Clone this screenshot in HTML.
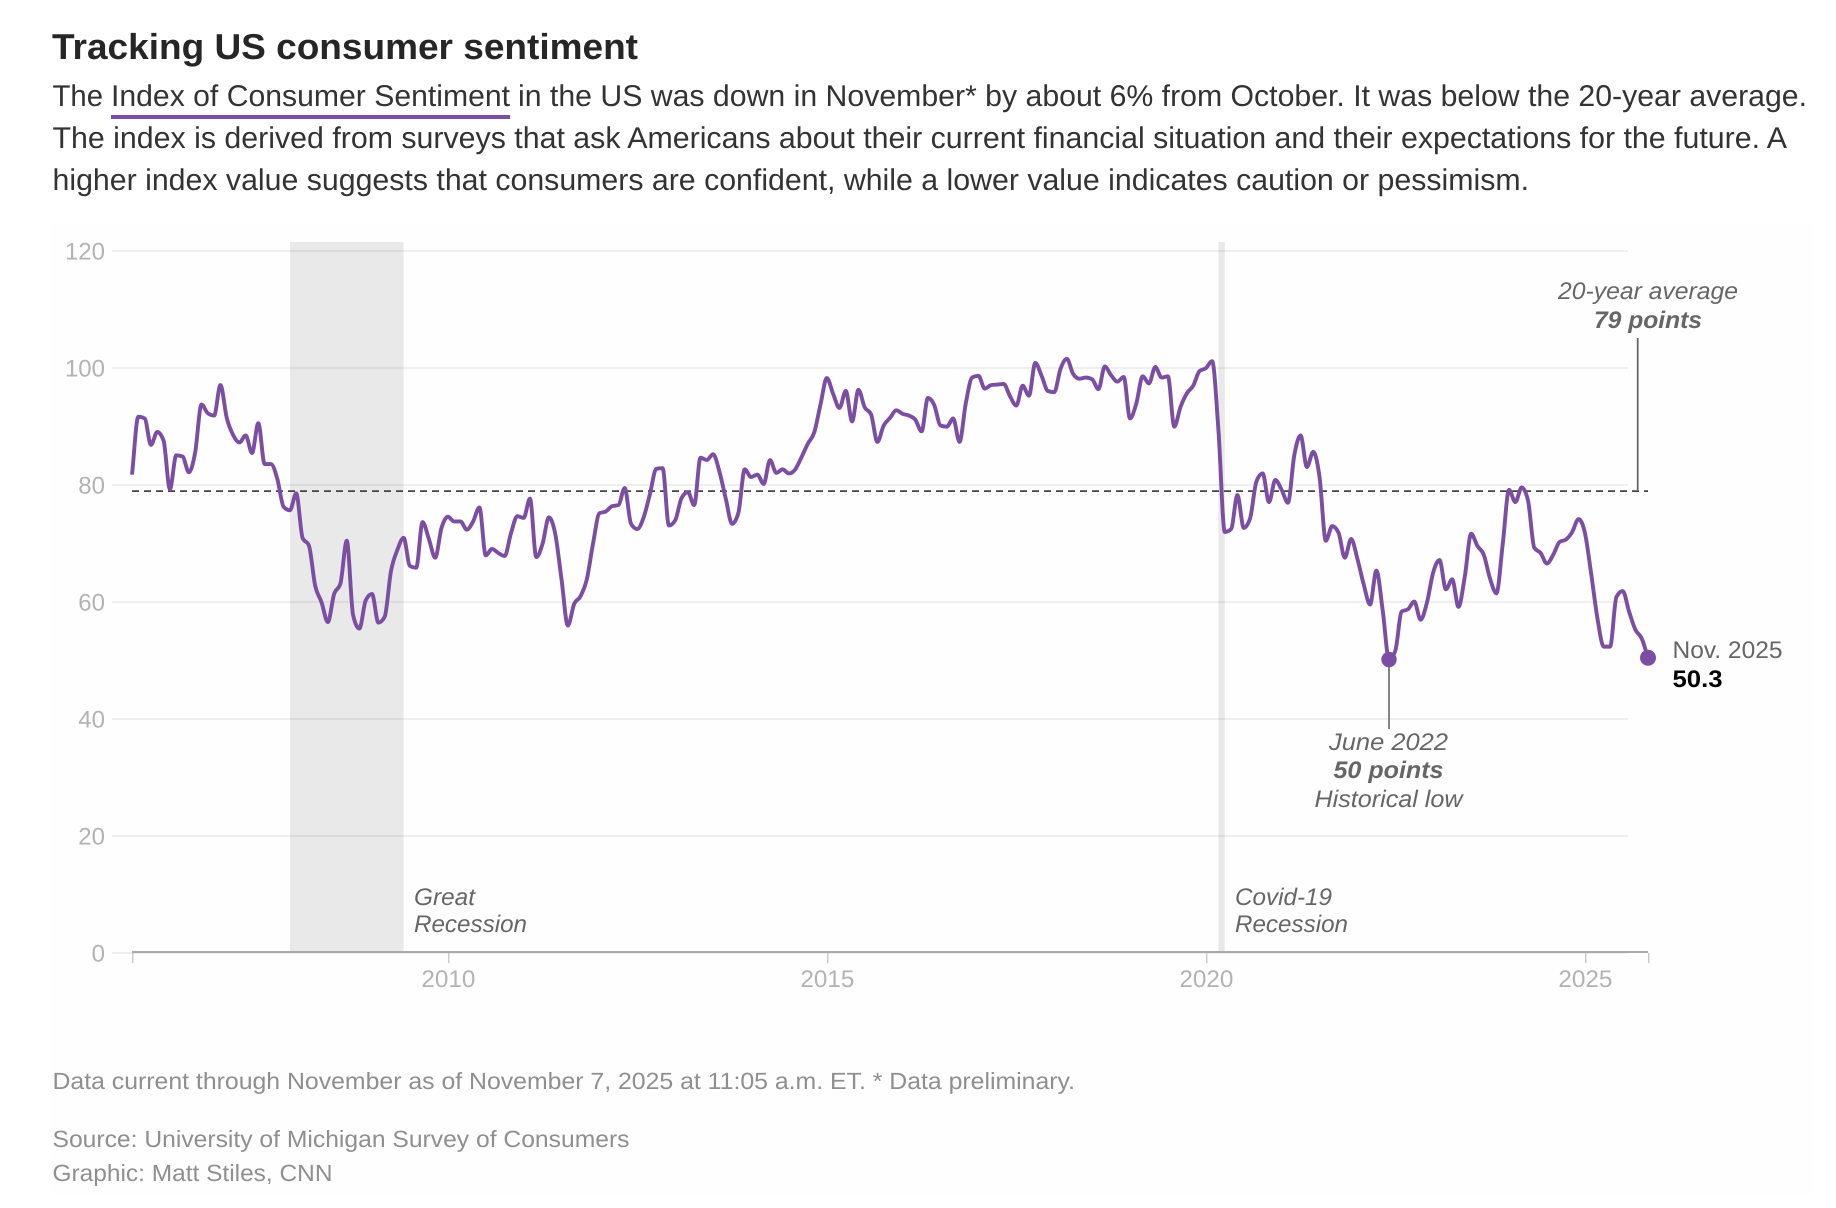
<!DOCTYPE html>
<html lang="en">
<head>
<meta charset="utf-8">
<title>Tracking US consumer sentiment</title>
<style>
  html, body { margin: 0; padding: 0; background: #fff; }
  body { width: 1836px; height: 1208px; overflow: hidden; }
  svg { display: block; font-family: "Liberation Sans", Arial, sans-serif; }
  text { text-rendering: geometricPrecision; }
</style>
</head>
<body>
<svg id="chart-root" xmlns="http://www.w3.org/2000/svg" width="1836" height="1208" viewBox="0 0 1836 1208">
  <rect x="52" y="225" width="1760" height="970" fill="#fefefe"/>

  <text x="52" y="59" font-size="36" font-weight="700" fill="#262626" textLength="586" lengthAdjust="spacingAndGlyphs">Tracking US consumer sentiment</text>

  <g font-size="30" fill="#333333">
    <text x="52.5" y="106" textLength="50.5" lengthAdjust="spacingAndGlyphs">The</text>
    <text x="111" y="106" textLength="399" lengthAdjust="spacingAndGlyphs">Index of Consumer Sentiment</text>
    <rect x="111" y="115" width="399" height="4" fill="#7b4ea3"/>
    <text x="518" y="106" textLength="1289" lengthAdjust="spacingAndGlyphs">in the US was down in November* by about 6% from October. It was below the 20-year average.</text>
    <text x="52.5" y="148" textLength="1734.5" lengthAdjust="spacingAndGlyphs">The index is derived from surveys that ask Americans about their current financial situation and their expectations for the future. A</text>
    <text x="52.5" y="190" textLength="1476.5" lengthAdjust="spacingAndGlyphs">higher index value suggests that consumers are confident, while a lower value indicates caution or pessimism.</text>
  </g>

  <g id="recessions"></g>
  <g id="grid"></g>
  <g id="y-axis"></g>
  <g id="x-axis"></g>
  <g id="average"></g>
  <g id="series"></g>

  <g font-size="24" font-style="italic" fill="#666">
    <text x="414" y="905" textLength="61" lengthAdjust="spacingAndGlyphs">Great</text>
    <text x="414" y="932" textLength="113" lengthAdjust="spacingAndGlyphs">Recession</text>
  </g>
  <g font-size="24" font-style="italic" fill="#666">
    <text x="1235" y="905" textLength="97" lengthAdjust="spacingAndGlyphs">Covid-19</text>
    <text x="1235" y="932" textLength="113" lengthAdjust="spacingAndGlyphs">Recession</text>
  </g>

  <g fill="#666" font-size="24" font-style="italic">
    <text x="1558" y="299" textLength="180" lengthAdjust="spacingAndGlyphs">20-year average</text>
    <text x="1594" y="328" font-weight="700" textLength="108" lengthAdjust="spacingAndGlyphs">79 points</text>
  </g>

  <g fill="#666" font-size="24" font-style="italic">
    <text x="1329" y="750" textLength="119" lengthAdjust="spacingAndGlyphs">June 2022</text>
    <text x="1333.5" y="778" font-weight="700" textLength="110" lengthAdjust="spacingAndGlyphs">50 points</text>
    <text x="1314.5" y="807" textLength="148" lengthAdjust="spacingAndGlyphs">Historical low</text>
  </g>

  <g font-size="24">
    <text x="1672.5" y="658" fill="#666" textLength="110" lengthAdjust="spacingAndGlyphs">Nov. 2025</text>
    <text x="1672.5" y="687" fill="#000" font-weight="700" textLength="50" lengthAdjust="spacingAndGlyphs">50.3</text>
  </g>

  <g font-size="23.5" fill="#8f8f8f">
    <text x="52.5" y="1089" textLength="1022.5" lengthAdjust="spacingAndGlyphs">Data current through November as of November 7, 2025 at 11:05 a.m. ET. * Data preliminary.</text>
    <text x="52.5" y="1147" textLength="577" lengthAdjust="spacingAndGlyphs">Source: University of Michigan Survey of Consumers</text>
    <text x="52.5" y="1181" textLength="280" lengthAdjust="spacingAndGlyphs">Graphic: Matt Stiles, CNN</text>
  </g>
</svg>

<script>
// Monthly index values, November 2005 through November 2025
const sentimentValues = [
  81.6, 91.5,
  91.2, 86.7, 88.9, 87.4, 79.1, 84.9, 84.7, 82.0, 85.4, 93.6, 92.1, 91.7,
  96.9, 91.3, 88.4, 87.1, 88.3, 85.3, 90.4, 83.4, 83.4, 80.9, 76.1, 75.5,
  78.4, 70.8, 69.5, 62.6, 59.8, 56.4, 61.2, 63.0, 70.3, 57.6, 55.3, 60.1,
  61.2, 56.3, 57.3, 65.1, 68.7, 70.8, 66.0, 65.7, 73.5, 70.6, 67.4, 72.5,
  74.4, 73.6, 73.6, 72.2, 73.6, 76.0, 67.8, 68.9, 68.2, 67.7, 71.6, 74.5,
  74.2, 77.5, 67.5, 69.8, 74.3, 71.5, 63.7, 55.8, 59.5, 60.8, 63.7, 69.9,
  75.0, 75.3, 76.2, 76.4, 79.3, 73.2, 72.3, 74.3, 78.3, 82.6, 82.7, 72.9,
  73.8, 77.6, 78.6, 76.4, 84.5, 84.1, 85.1, 82.1, 77.5, 73.2, 75.1, 82.5,
  81.2, 81.6, 80.0, 84.1, 81.9, 82.5, 81.8, 82.5, 84.6, 86.9, 88.8, 93.6,
  98.1, 95.4, 93.0, 95.9, 90.7, 96.1, 93.1, 91.9, 87.2, 90.0, 91.3, 92.6,
  92.0, 91.7, 91.0, 89.0, 94.7, 93.5, 90.0, 89.8, 91.2, 87.2, 93.8, 98.2,
  98.5, 96.3, 96.9, 97.0, 97.1, 95.0, 93.4, 96.8, 95.1, 100.7, 98.5, 95.9,
  95.7, 99.7, 101.4, 98.8, 98.0, 98.2, 97.9, 96.2, 100.1, 98.6, 97.5, 98.3,
  91.2, 93.8, 98.4, 97.2, 100.0, 98.2, 98.4, 89.8, 93.2, 95.5, 96.8, 99.3,
  99.8, 101.0, 89.1, 71.8, 72.3, 78.1, 72.5, 74.1, 80.4, 81.8, 76.9, 80.7,
  79.0, 76.8, 84.9, 88.3, 82.9, 85.5, 81.2, 70.3, 72.8, 71.7, 67.4, 70.6,
  67.2, 62.8, 59.4, 65.2, 58.4, 50.0, 51.5, 58.2, 58.6, 59.9, 56.8, 59.7,
  64.9, 67.0, 62.0, 63.7, 59.0, 64.2, 71.5, 69.4, 67.9, 63.8, 61.3, 69.7,
  79.0, 76.9, 79.4, 77.2, 69.1, 68.2, 66.4, 67.9, 70.1, 70.5, 71.8, 74.0,
  71.7, 64.7, 57.0, 52.2, 52.2, 60.7, 61.7, 58.2, 55.1, 53.6, 50.3
];
const firstMonth = [2005, 11];
const yTickValues = [0, 20, 40, 60, 80, 100, 120];
const yTickLabels = ["0", "20", "40", "60", "80", "100", "120"];
const xTickYears = [2010, 2015, 2020, 2025];
const xTickLabels = ["2010", "2015", "2020", "2025"];
const recessionStartMonths = [[2007, 12], [2020, 3]];
const recessionEndMonths = [[2009, 6], [2020, 4]];
const recessionNames = ["great-recession-band", "covid-recession-band"];
const averageValue = 79;
const lowMonth = [2022, 6];

const SVG_NS = "http://www.w3.org/2000/svg";
const plotLeft = 132, plotRight = 1648;
const lastIndex = sentimentValues.length - 1;

function monthIndex(ym) {
  return (ym[0] - firstMonth[0]) * 12 + (ym[1] - firstMonth[1]);
}
function xScale(i) {
  return plotLeft + (plotRight - plotLeft) * i / lastIndex;
}
function yGrid(v) {
  return 953 - v * 5.85;
}
function yLine(v) {
  return 952 - v * 5.85;
}
function make(tag, attrs, parent, text) {
  const node = document.createElementNS(SVG_NS, tag);
  Object.keys(attrs).forEach(function (k) { node.setAttribute(k, attrs[k]); });
  if (text !== undefined) node.textContent = text;
  parent.appendChild(node);
  return node;
}

function monotonePath(xs, ys) {
  const n = xs.length;
  const slopes = [];
  const tangents = [];
  for (let i = 0; i < n - 1; i++) {
    slopes.push((ys[i + 1] - ys[i]) / (xs[i + 1] - xs[i]));
  }
  tangents.push(slopes[0]);
  for (let i = 1; i < n - 1; i++) {
    const s0 = slopes[i - 1], s1 = slopes[i];
    if (s0 * s1 <= 0) {
      tangents.push(0);
    } else {
      const h0 = xs[i] - xs[i - 1], h1 = xs[i + 1] - xs[i];
      const p = (s0 * h1 + s1 * h0) / (h0 + h1);
      const sign = s0 > 0 ? 1 : -1;
      tangents.push(sign * Math.min(Math.abs(s0), Math.abs(s1), 0.5 * Math.abs(p)) * 2);
    }
  }
  tangents.push(slopes[n - 2]);
  let d = "M" + xs[0].toFixed(2) + "," + ys[0].toFixed(2);
  for (let i = 0; i < n - 1; i++) {
    const dx = (xs[i + 1] - xs[i]) / 3;
    d += "C" + (xs[i] + dx).toFixed(2) + "," + (ys[i] + dx * tangents[i]).toFixed(2) + " " +
         (xs[i + 1] - dx).toFixed(2) + "," + (ys[i + 1] - dx * tangents[i + 1]).toFixed(2) + " " +
         xs[i + 1].toFixed(2) + "," + ys[i + 1].toFixed(2);
  }
  return d;
}

// Recession bands
const recessionGroup = document.getElementById("recessions");
recessionStartMonths.forEach(function (start, i) {
  const x0 = xScale(monthIndex(start));
  const x1 = xScale(monthIndex(recessionEndMonths[i]));
  const band = make("rect", { x: x0, y: 242, width: x1 - x0, height: 710, fill: "#e9e9e9" }, recessionGroup);
  
  
});

// Gridlines and y labels
const gridGroup = document.getElementById("grid");
const yAxisGroup = document.getElementById("y-axis");
yTickValues.forEach(function (v, i) {
  const gridline = make("rect", { x: 112, y: yGrid(v) - 0.9, width: 1516, height: 1.8, fill: "#000", "fill-opacity": 0.065 }, gridGroup);
  
  
  const label = make("text", { x: 105, y: yGrid(v) + 8.5, "text-anchor": "end", "font-size": 24, fill: "#b3b3b3" }, yAxisGroup, yTickLabels[i]);
  
  
});

// X axis
const xAxisGroup = document.getElementById("x-axis");
const baseline = make("rect", { x: plotLeft, y: 951, width: plotRight - plotLeft, height: 2, fill: "#aaaaaa" }, xAxisGroup);


[0, lastIndex].forEach(function (i) {
  const endTick = make("rect", { x: xScale(i), y: 953, width: 1.4, height: 10, fill: "#c8c8c8" }, xAxisGroup);
  
  
});
xTickYears.forEach(function (year, i) {
  const tx = xScale(monthIndex([year, 1])) + 0.6;
  const tick = make("rect", { x: tx - 0.4, y: 953, width: 1.4, height: 10, fill: "#c8c8c8" }, xAxisGroup);
  
  
  const label = make("text", { x: tx - 27, y: 987, "font-size": 24, fill: "#b3b3b3", textLength: 54, lengthAdjust: "spacingAndGlyphs" }, xAxisGroup, xTickLabels[i]);
  
  
});

// Average reference line
const averageGroup = document.getElementById("average");
const avgY = yGrid(averageValue) + 0.3;
const avgLine = make("line", { x1: plotLeft, x2: plotRight, y1: avgY, y2: avgY, stroke: "#444", "stroke-width": 1.8, "stroke-dasharray": "7 5" }, averageGroup);


const avgLeader = make("line", { x1: 1637.7, x2: 1637.7, y1: 338, y2: avgY, stroke: "#666", "stroke-width": 1.8 }, averageGroup);



// Series line and marker dots
const seriesGroup = document.getElementById("series");
const xs = sentimentValues.map(function (v, i) { return xScale(i); });
const ys = sentimentValues.map(function (v) { return yLine(v); });
const lowIndex = monthIndex(lowMonth);
const lowLeader = make("line", { x1: xs[lowIndex], x2: xs[lowIndex], y1: ys[lowIndex], y2: 729, stroke: "#666", "stroke-width": 1.6 }, seriesGroup);


const sentimentLine = make("path", { d: monotonePath(xs, ys), fill: "none", stroke: "#7b4ea3", "stroke-width": 3.9, "stroke-linejoin": "round" }, seriesGroup);


const lowDot = make("circle", { cx: xs[lowIndex], cy: ys[lowIndex], r: 7.7, fill: "#7b4ea3" }, seriesGroup);


const latestDot = make("circle", { cx: xs[lastIndex], cy: ys[lastIndex], r: 8, fill: "#7b4ea3" }, seriesGroup);


</script>
</body>
</html>
